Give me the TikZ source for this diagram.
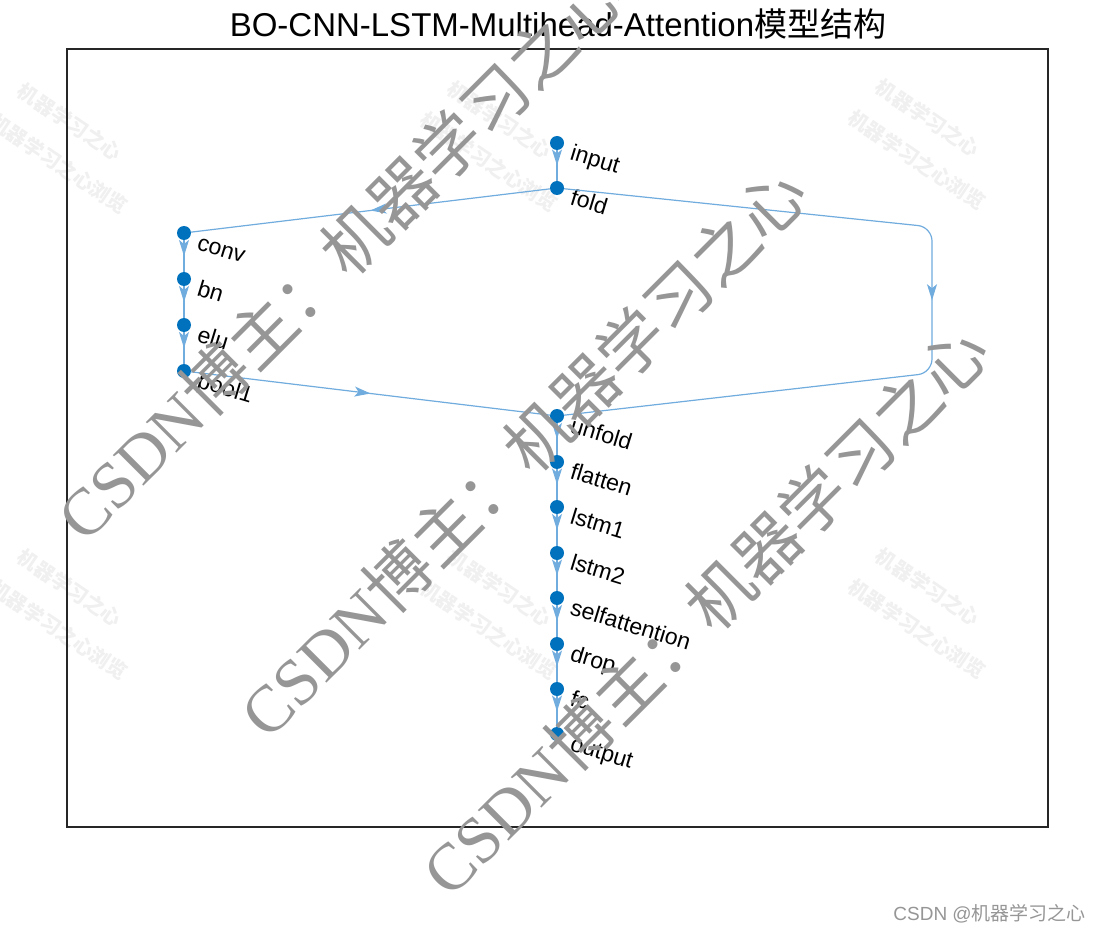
\documentclass[tikz,border=0pt]{standalone}
\usepackage{fontspec}
\setmainfont{Liberation Sans}
\newfontfamily\cjkfont{Noto Sans CJK SC}
\newfontfamily\wmfont{Liberation Serif}
\usetikzlibrary{arrows.meta,decorations.markings}

\definecolor{mblue}{RGB}{0,114,189}
\definecolor{eblue}{RGB}{112,172,222}
\definecolor{wmgray}{RGB}{150,150,150}
\definecolor{axgray}{RGB}{38,38,38}
\tikzset{
  layer/.style={circle,fill=mblue,inner sep=0pt,minimum size=14pt},
  lbl/.style={rotate=-17,anchor=base west,inner sep=0pt,font=\fontsize{23}{23}\selectfont},
  edge/.style={eblue,line width=1.2pt,postaction={decorate},
    decoration={markings,mark=at position 0.5 with {\arrow{Stealth[length=16pt,width=10pt,inset=4pt]}}}},
  wm/.style={wmgray,rotate=45,anchor=base west,inner sep=0pt,font=\cjkfont\fontsize{66}{66}\selectfont},
  faint/.style={black!6,rotate=-34,inner sep=0pt,font=\cjkfont\bfseries\fontsize{20}{20}\selectfont}
}

\begin{document}
\begin{tikzpicture}[x=1pt,y=-1pt]
\useasboundingbox (0,0) rectangle (1101,933);
\clip (0,0) rectangle (1101,933);
\fill[white] (0,0) rectangle (1101,933);

%% faint watermarks
\foreach \x/\y in {70/122, 500/120, 928/118, 70/588, 500/588, 928/587}{
  \node[faint] (fa-\x-\y) at (\x,\y) {机器学习之心};
  \node[faint] (fb-\x-\y) at (\x-11,\y+42) {机器学习之心浏览};
}

%% title and axes
\node[font=\fontsize{33}{33}\selectfont] (title) at (558,24) {BO-CNN-LSTM-Multihead-Attention{\cjkfont 模型结构}};
\draw[axgray,line width=1.2pt] (67,49) rectangle (1048,827);

%% layers
\foreach \n/\x/\y in {input/557/143, fold/557/188, conv/184/233, bn/184/279, elu/184/325,
    pool1/184/371, unfold/557/416, flatten/557/462, lstm1/557/507, lstm2/557/553,
    selfattention/557/598, drop/557/644, fc/557/689, output/557/734}{
  \node[layer] (\n) at (\x,\y) {};
  \node[lbl] (\n-t) at ([shift={(12,16)}]\n.center) {\n};
}

%% connections
\foreach \a/\b in {input/fold, fold/conv, conv/bn, bn/elu, elu/pool1, pool1/unfold,
    unfold/flatten, flatten/lstm1, lstm1/lstm2, lstm2/selfattention,
    selfattention/drop, drop/fc, fc/output}
  \draw[edge] (\a) -- (\b);
\draw[edge,rounded corners=14pt] (fold) -- (932,227) -- (932,373) -- (unfold);

%% watermarks
\foreach \x/\y in {85/545, 268/742, 450/900}
  \node[wm] (wm-\x) at (\x,\y) {{\wmfont CSDN}博主：机器学习之心};
\node[wmgray,anchor=east,inner sep=0pt,font=\fontsize{19}{19}\selectfont] (credit) at (1086,914) {CSDN @{\cjkfont 机器学习之心}};
\end{tikzpicture}
\end{document}
